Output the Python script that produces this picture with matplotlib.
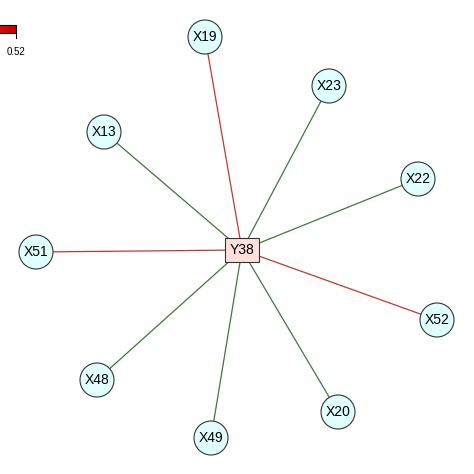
import matplotlib.pyplot as plt
from matplotlib.patches import Circle, Rectangle
from matplotlib.colors import LinearSegmentedColormap
import numpy as np

center = "Y38"
center_pos = (242, 250)
nodes = ["X19", "X23", "X13", "X22", "X51", "X52", "X48", "X20", "X49"]
node_x = [205, 329, 104, 418, 36, 437, 97, 338, 211]
node_y = [37, 86, 132, 179, 252, 320, 380, 412, 438]
weights = [0.52, -0.3, -0.3, -0.3, 0.5, 0.5, -0.3, -0.3, -0.3]

fig = plt.figure(figsize=(4.74, 4.74), dpi=100)
ax = fig.add_axes([0, 0, 1, 1])
ax.axis("off")

for x, y, w in zip(node_x, node_y, weights):
    col = "#c0392b" if w > 0 else "#3a7a3a"
    ax.plot([center_pos[0], x], [center_pos[1], y], color=col, lw=0.9, zorder=1)

for name, x, y in zip(nodes, node_x, node_y):
    ax.add_patch(Circle((x, y), 17, facecolor="#e0ffff", edgecolor="#333333", lw=0.8, zorder=2))
    ax.text(x, y, name, ha="center", va="center", fontsize=10, family="Liberation Sans", zorder=3)

ax.add_patch(Rectangle((center_pos[0] - 17, center_pos[1] - 12), 34, 24,
                       facecolor="#fde0dc", edgecolor="#333333", lw=0.8, zorder=2))
ax.text(*center_pos, center, ha="center", va="center", fontsize=10, family="Liberation Sans", zorder=3)

# partial colour bar, top-left
cmap = LinearSegmentedColormap.from_list("r", ["#e01010", "#cc0000"])
grad = np.linspace(0, 1, 50).reshape(1, -1)
ax.imshow(grad, cmap=cmap, extent=(-10, 16, 33, 25), aspect="auto", zorder=2)
ax.plot([-10, 16, 16, -10], [25, 25, 33, 33], color="black", lw=0.8)
ax.plot([16, 16], [33, 38], color="black", lw=0.8)
ax.text(16, 52, "0.52", ha="center", va="center", fontsize=7, family="Liberation Sans")
ax.set_xlim(0, 474)
ax.set_ylim(474, 0)

fig.savefig("out.png", dpi=100)
